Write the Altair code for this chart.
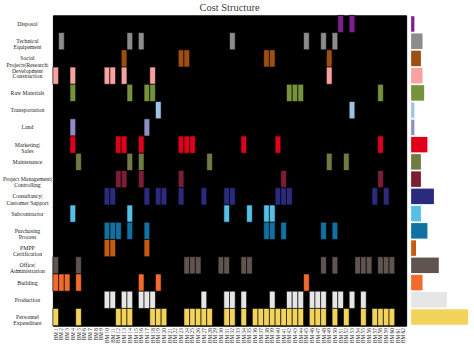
import altair as alt
import pandas as pd

categories = [
    "Disposal", "Technical\nEquipement", "Social\nProjects|Research|\nDevelopment",
    "Construction", "Raw Materials", "Transportation", "Land", "Marketing|\nSales",
    "Maintenance", "Project Management|\nControlling", "Consultancy|\nCustomer Support",
    "Subcontractor", "Purchasing\nProcess", "PMPP\nCertification",
    "Office|\nAdministration", "Building", "Production", "Personnel\nExpenditure",
]
colors = [
    "#7f1f8f", "#8c8c8c", "#9c4f10", "#f7a1a1", "#76923c", "#9dc3e6", "#8f8fc6",
    "#e0001b", "#6e7b43", "#7b1d34", "#2b2b7e", "#54c0e8", "#0f72a2", "#c55a11",
    "#605450", "#f26b2b", "#e6e6e6", "#f2d35c",
]
columns = ["BM " + str(i) for i in range(1, 63)]

# business models (column numbers) using each cost category
disposal = [51, 53]
technical = [2, 14, 16, 32, 45, 48, 50]
social = [13, 23, 24, 38, 39, 49]
construction = [1, 4, 10, 11, 13, 18, 49]
raw_materials = [4, 14, 17, 18, 42, 43, 44, 58]
transportation = [19, 53]
land = [4, 17]
marketing = [4, 12, 13, 16, 23, 24, 25, 34, 40, 58]
maintenance = [5, 14, 16, 28, 49, 52]
project_mgmt = [12, 13, 16, 23, 41, 58]
consultancy = [10, 11, 17, 19, 20, 23, 27, 31, 32, 40, 41, 42, 57, 59]
subcontractor = [4, 14, 31, 35, 38, 39]
purchasing = [10, 11, 12, 14, 17, 38, 39, 41, 48, 50]
pmpp = [10, 11, 17]
office = [1, 5, 24, 25, 26, 30, 31, 34, 35, 48, 50, 54, 55, 56, 58, 59, 60]
building = [1, 2, 3, 5, 16, 19, 45]
production = [10, 11, 13, 14, 16, 17, 18, 27, 31, 32, 34, 39, 42, 43, 44, 46, 47,
              48, 50, 51, 53, 55]
personnel = [1, 5, 12, 13, 14, 18, 19, 20, 24, 25, 26, 27, 28, 31, 32, 34, 36, 37,
             38, 39, 40, 41, 42, 43, 44, 46, 47, 48, 50, 52, 55, 57, 58, 59, 60]

usage = [disposal, technical, social, construction, raw_materials, transportation,
         land, marketing, maintenance, project_mgmt, consultancy, subcontractor,
         purchasing, pmpp, office, building, production, personnel]

rows = []
for cat, cols in zip(categories, usage):
    for c in cols:
        rows.append({"category": cat, "bm": "BM " + str(c)})
df = pd.DataFrame(rows)

font = "Liberation Serif"
color_scale = alt.Scale(domain=categories, range=colors)
y_scale = alt.Scale(domain=categories, paddingInner=0, paddingOuter=0)

heat = alt.Chart(df).mark_rect(stroke="black", strokeWidth=0.6).encode(
    x=alt.X("bm:N", scale=alt.Scale(domain=columns, paddingInner=0, paddingOuter=0),
            axis=alt.Axis(title=None, labelAngle=-90, labelFontSize=5.3, labelFont=font,
                          ticks=False, domain=False, labelPadding=2, labelColor="#222")),
    y=alt.Y("category:N", scale=y_scale,
            axis=alt.Axis(title=None, ticks=False, domain=False, labelAlign="center",
                          labelPadding=26, labelFontSize=5.8, labelFont=font,
                          labelLineHeight=6.2, labelColor="#222", labelLimit=0,
                          labelExpr="split(datum.label, '\\n')")),
    color=alt.Color("category:N", scale=color_scale, legend=None),
).properties(
    width=354, height=311,
    view=alt.ViewBackground(fill="black", stroke="black"),
    title=alt.TitleParams("Cost Structure", font=font, fontSize=10.5, fontWeight="normal",
                          color="#404040", frame="group", anchor="middle", offset=2),
)

bars = alt.Chart(df).mark_bar().encode(
    y=alt.Y("category:N", scale=alt.Scale(domain=categories, paddingInner=0.1,
                                          paddingOuter=0.05), axis=None),
    x=alt.X("count():Q", scale=alt.Scale(domain=[0, 38], nice=False), axis=None),
    color=alt.Color("category:N", scale=color_scale, legend=None),
).properties(width=62, height=311, view=alt.ViewBackground(stroke="transparent"))

chart = alt.hconcat(heat, bars, spacing=3).properties(
    padding={"left": 1, "top": 1, "right": 0, "bottom": 0},
    background="white",
)

chart.save("out.html", embed_options={"renderer": "svg", "actions": False})
